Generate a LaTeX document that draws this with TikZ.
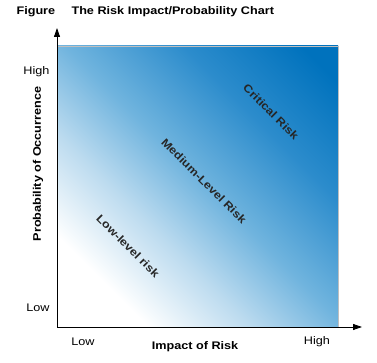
\documentclass[tikz,border=0pt]{standalone}
\usepackage{fontspec}
\setmainfont[FakeStretch=1.15]{Liberation Sans}
\usetikzlibrary{arrows.meta}
\definecolor{riskdark}{RGB}{0,114,189}
\definecolor{riskhigh}{RGB}{44,140,204}
\definecolor{riskmid}{RGB}{112,180,222}
\definecolor{risklow}{RGB}{188,219,239}
\pgfdeclarehorizontalshading{riskshade}{100bp}{color(0bp)=(white); color(26bp)=(white);
  color(39bp)=(risklow); color(51bp)=(riskmid); color(66bp)=(riskhigh); color(81bp)=(riskdark); color(100bp)=(riskdark)}
\tikzset{
  axislbl/.style={font=\fontsize{11}{13}\selectfont\bfseries},
  ticklbl/.style={font=\fontsize{11}{13}\selectfont},
  risklbl/.style={font=\fontsize{11}{13}\selectfont\bfseries,text=black!85,rotate=-45},
  axisline/.style={line width=0.8pt,-{Triangle[length=9pt,width=6pt]}}
}
\begin{document}
\begin{tikzpicture}[x=1pt,y=1pt]
  \useasboundingbox (0,0) rectangle (377,363);
  % corners of the chart
  \coordinate (O) at (57,36);
  \coordinate (TR) at (338,317);
  \coordinate (ytip) at (57,335);
  \coordinate (xtip) at (362,36);
  \shade[shading=riskshade,shading angle=45] (O) rectangle (TR);
  \draw[black!25,line width=0.4pt] (57,317) -- (TR) -- (338,36);
  \draw[axisline] (O) -- (ytip);
  \draw[axisline] (O) -- (xtip);
  % heading
  \path (13,351) node[axislbl,anchor=west] (fig) {Figure}
        (68,351) node[axislbl,anchor=west] (title) {The Risk Impact/Probability Chart};
  % tick labels
  \foreach \t/\y [count=\i] in {High/291,Low/55}
    \path (53,\y) node[ticklbl,anchor=east] (ytick\i) {\t};
  \foreach \t/\x [count=\i] in {Low/83,High/317}
    \path (\x,21) node[ticklbl] (xtick\i) {\t};
  \path (195,16) node[axislbl] (xlbl) {Impact of Risk}
        (38,199) node[axislbl,rotate=90] (ylbl) {Probability of Occurrence};
  % risk zones
  \path (271,251) node[risklbl] (crit) {Critical Risk}
        (204,182) node[risklbl] (med) {Medium-Level Risk}
        (128,117) node[risklbl] (low) {Low-level risk};
\end{tikzpicture}
\end{document}
